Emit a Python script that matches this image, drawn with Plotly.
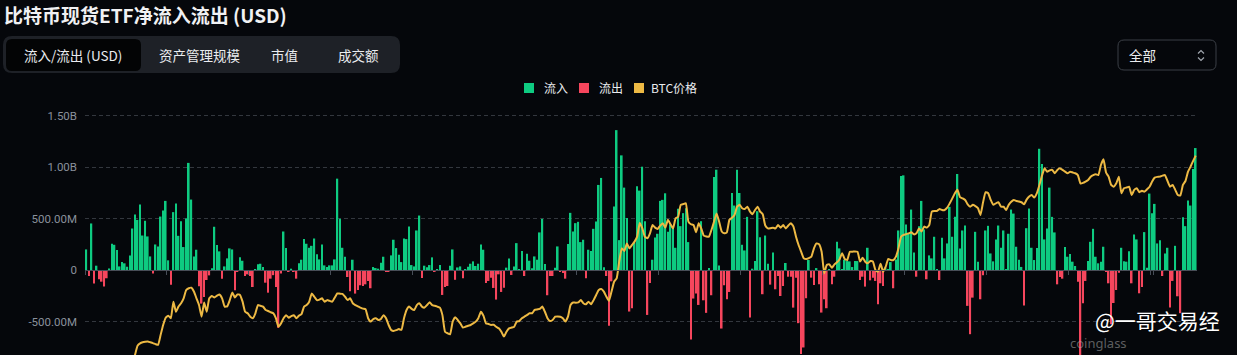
import plotly.graph_objects as go
import pandas as pd
from pandas.tseries.holiday import USFederalHolidayCalendar
from pandas.tseries.offsets import CustomBusinessDay

# ---------------- data ----------------
N_DAYS = 434
trade_days = pd.date_range(start="2024-01-11", periods=N_DAYS,
                           freq=CustomBusinessDay(calendar=USFederalHolidayCalendar()))
day_labels = [d.strftime("%Y-%m-%d") for d in trade_days]

# daily net flow, million USD
net_flow_musd = [
    200, -58, 452, -130, 42, -90, -113, -160, -80, 15,
    255, 245, 194, 35, 77, 65, 32, 142, 403, 539,
    487, 636, 335, 478, 326, 132, -35, 248, 229, 519,
    577, 671, 94, -142, 562, 646, 332, 474, 223, 500,
    1040, 684, 132, 197, -158, -326, -261, -97, -52, 16,
    420, 242, 181, -84, 35, 113, 210, 200, -197, -19,
    123, 90, -58, -42, -58, -165, 3, 55, 61, 29,
    -123, -220, -84, -50, -165, -560, -35, 374, 213, -16,
    13, -10, -84, 65, 100, 300, 255, 216, 235, 306,
    152, 103, 248, 45, 29, 45, 45, 103, 887, 497,
    216, 129, -68, -206, 100, -229, -194, -148, -155, -139,
    -106, -177, 29, 19, 13, 71, 129, -16, -19, 142,
    294, 213, 148, 77, 306, 300, 423, 48, 35, 384,
    529, -77, 42, 26, 48, 123, -19, 5, 48, -242,
    -165, -155, 42, 200, -95, 25, 35, -80, 10, 32,
    61, 84, 39, 61, 248, 197, -126, -106, -74, -174,
    -287, -42, -213, -171, 23, 113, -48, 35, 261, 10,
    184, -58, 158, 90, 16, 132, 100, 365, 497, 58,
    -245, -58, -58, 23, 229, -19, -29, -84, 252, 555,
    374, 455, 468, 271, 294, -80, 197, 184, 400, 471,
    826, 894, 26, -58, -542, -110, 616, 1358, 290, 1113,
    800, 506, -403, -371, 266, 813, 771, 1003, 474, -436,
    -126, 100, 316, 352, 671, 681, 745, 371, 442, 419,
    216, 594, 426, 552, 600, 271, -674, -277, -229, -339,
    474, -294, -416, 20, -245, 903, 974, 45, -568, -148,
    -284, -213, 748, 626, 974, 748, 245, 190, 516, -461,
    13, 87, 571, 319, -235, 335, 61, -142, 171, -187,
    -58, -252, -155, 68, -65, -65, -365, -74, -516, -816,
    -752, -274, 97, -74, -145, 19, -139, -413, -284, -371,
    10, -139, -65, 274, 210, 10, 100, 87, 84, 29,
    87, 87, -97, -65, -161, 216, -100, -74, -106, -332,
    -129, -155, 23, 10, 77, -177, 103, 384, 913, 919,
    442, 361, 587, 171, -65, 426, 671, 394, -90, 142,
    113, 323, 10, -97, 313, 113, 258, 613, 323, 516,
    932, 210, 384, 432, -348, -623, -268, 371, 81, -284,
    -52, 384, 429, 161, 84, 297, 432, 216, 384, 6,
    352, 587, 548, 226, 100, 30, -345, 406, 597, 216,
    97, 213, 1177, 1029, 297, 403, 800, 516, 365, -139,
    -68, -84, 223, 129, 155, 81, 39, -113, -830, -323,
    -106, 87, 274, 400, 129, 65, 81, 226, -16, -129,
    -526, -320, -194, -26, 216, 84, 81, 181, -129, 345,
    297, -226, -165, 368, 23, 742, 552, 642, 258, 290,
    -58, 161, 216, -365, -106, 235, -255, -419, 513, 426,
    674, 626, 981, 1184,
]

# BTC price, USD
btc_price = [
    46600, 42800, 43100, 42700, 41300, 41600, 39500, 39800, 40100, 39900,
    41800, 43300, 42900, 42600, 43100, 43200, 42600, 43100, 44300, 47000,
    50600, 51500, 51900, 52100, 52200, 51900, 51600, 51200, 50900, 54700,
    58600, 61400, 62200, 61200, 67600, 63700, 65700, 67000, 68900, 72100,
    72800, 73000, 71500, 68900, 66300, 61800, 67300, 63700, 68900, 69800,
    69200, 69900, 70400, 68900, 65700, 65800, 68200, 71100, 69200, 70400,
    70200, 67600, 63700, 63100, 61800, 61200, 63100, 66300, 66000, 65700,
    64400, 64000, 63500, 63100, 61200, 57900, 59200, 61200, 62400, 61400,
    62000, 62400, 61200, 62200, 62800, 65700, 66300, 67600, 70800, 69500,
    68200, 68400, 68900, 67600, 68200, 67900, 67600, 69200, 70800, 70700,
    70600, 69500, 68200, 68900, 67000, 66300, 65800, 65300, 64900, 64700,
    61200, 59900, 60900, 61200, 60500, 60900, 62400, 61200, 58600, 56700,
    56300, 56600, 57000, 56700, 61200, 64400, 65700, 64800, 64400, 66300,
    67000, 65700, 65300, 66300, 67400, 66300, 66000, 65700, 65300, 62400,
    56000, 55400, 55000, 59900, 61600, 60500, 59200, 57600, 57900, 58300,
    58600, 59200, 59900, 61200, 63700, 62200, 59200, 59000, 58600, 58700,
    57900, 57300, 56000, 54100, 56000, 57300, 57600, 57900, 59900, 60100,
    61200, 61800, 62400, 63100, 63100, 64400, 64600, 64800, 65700, 63700,
    61200, 60100, 60500, 61800, 61900, 61800, 61200, 59900, 61800, 66300,
    67300, 67200, 67300, 68200, 67000, 66600, 67600, 66600, 68200, 70200,
    72100, 72500, 71500, 69500, 67900, 71500, 75300, 76600, 83100, 88200,
    87200, 90100, 88200, 89500, 90800, 92700, 98000, 96000, 92700, 92100,
    94000, 97200, 96200, 95700, 97000, 97900, 96200, 99200, 97500, 95900,
    99800, 100400, 105000, 105300, 105600, 98500, 97500, 97200, 94400, 97900,
    95900, 93100, 92800, 92700, 95300, 98500, 101700, 98500, 94700, 94000,
    94400, 99200, 100000, 101100, 104300, 105000, 103700, 103400, 104300, 102500,
    101400, 103000, 104300, 102400, 101400, 97000, 95900, 96000, 96200, 95900,
    97200, 96200, 97200, 95900, 97000, 97900, 96600, 92700, 89500, 86900,
    84400, 84100, 84400, 85000, 88200, 90100, 89800, 86900, 78600, 81800,
    82000, 80700, 82000, 82800, 84000, 86300, 84100, 83700, 86900, 86900,
    87000, 86900, 83100, 84600, 83000, 82400, 83300, 83100, 79800, 79200,
    82200, 79200, 81100, 84100, 83700, 83700, 85000, 88200, 92700, 93400,
    93700, 94000, 94400, 93600, 94000, 95900, 94700, 96600, 96200, 97200,
    102400, 102600, 102600, 103400, 103000, 103000, 103900, 105600, 107500, 109500,
    110800, 108000, 107500, 106900, 105200, 104300, 105000, 104500, 103700, 101100,
    106000, 109900, 109500, 106900, 105000, 105600, 106000, 104300, 104300, 103000,
    105000, 106200, 106900, 106500, 106300, 106000, 105200, 107000, 108200, 108800,
    107800, 109500, 112700, 116300, 119100, 117800, 118300, 118500, 117200, 118500,
    119100, 118500, 117800, 117200, 117800, 117500, 117200, 116500, 113300, 113500,
    114000, 114600, 115900, 116500, 116800, 116500, 120400, 122600, 117500, 115900,
    112700, 112000, 113300, 115900, 109500, 111400, 111700, 112000, 108800, 110800,
    111400, 109900, 110400, 110100, 111000, 112000, 114000, 115500, 115800, 115900,
    116300, 116500, 114200, 112000, 112700, 110800, 108800, 108600, 112700, 114200,
    117800, 119800, 122000, 124000,
]

y_tick_values = [-500e6, 0, 500e6, 1000e6, 1500e6]
y_tick_text = ["-500.00M", "0", "500.00M", "1.00B", "1.50B"]
tab_names = ["流入/流出 (USD)", "资产管理规模", "市值", "成交额"]
legend_names = ["流入", "流出", "BTC价格"]

# ---------------- style ----------------
BG = "#05070b"
GREEN = "#0ecb81"
RED = "#f6465d"
YELLOW = "#edb944"
W, H = 1237, 355
L, R, T, B = 85, 40, 100, 0
PW, PH = W - L - R, H - T - B
CJK = "Noto Sans CJK SC"


def PX(x):
    return (x - L) / PW


def PY(y):
    return (H - B - y) / PH


def rrect(x0, y0, x1, y1, r):
    return (f"M{PX(x0 + r)},{PY(y0)} L{PX(x1 - r)},{PY(y0)} Q{PX(x1)},{PY(y0)} {PX(x1)},{PY(y0 + r)} "
            f"L{PX(x1)},{PY(y1 - r)} Q{PX(x1)},{PY(y1)} {PX(x1 - r)},{PY(y1)} "
            f"L{PX(x0 + r)},{PY(y1)} Q{PX(x0)},{PY(y1)} {PX(x0)},{PY(y1 - r)} "
            f"L{PX(x0)},{PY(y0 + r)} Q{PX(x0)},{PY(y0)} {PX(x0 + r)},{PY(y0)} Z")


def polyline(points):
    return "M" + " L".join(f"{PX(x)},{PY(y)}" for x, y in points)


inflow = [v * 1e6 if v > 0 else None for v in net_flow_musd]
outflow = [v * 1e6 if v < 0 else None for v in net_flow_musd]

fig = go.Figure()
fig.add_bar(x=day_labels, y=inflow, name=legend_names[0], marker_color=GREEN,
            marker_line_width=0, showlegend=False)
fig.add_bar(x=day_labels, y=outflow, name=legend_names[1], marker_color=RED,
            marker_line_width=0, showlegend=False)
fig.add_scatter(x=day_labels, y=btc_price, yaxis="y2", mode="lines", name=legend_names[2],
                line=dict(color=YELLOW, width=2, shape="spline", smoothing=0.4),
                showlegend=False)

y_lo, y_hi = -825e6, 1650.5e6
zero_pos = (0 - y_lo) / (y_hi - y_lo)

fig.update_layout(
    width=W, height=H, autosize=False,
    margin=dict(l=L, r=R, t=T, b=B, pad=0),
    paper_bgcolor=BG, plot_bgcolor=BG,
    barmode="relative", bargap=0.35,
    showlegend=False,
    xaxis=dict(type="category", range=[-0.5, N_DAYS - 0.5], showgrid=False,
               showline=True, linecolor="#474d57", linewidth=1,
               ticks="outside", ticklen=4, tickcolor="#474d57",
               tickson="boundaries", tickmode="array", tickvals=day_labels[::32],
               showticklabels=False, anchor="free", position=zero_pos,
               automargin=False, zeroline=False),
    yaxis=dict(range=[y_lo, y_hi], tickmode="array", tickvals=y_tick_values,
               ticktext=y_tick_text, showgrid=True, gridcolor="#33373e",
               griddash="4px,3px", gridwidth=1, zeroline=False, showline=False,
               ticks="", ticklabelstandoff=7, automargin=False,
               tickfont=dict(family="Roboto", size=11.5, color="#8a919c")),
    yaxis2=dict(overlaying="y", range=[47000, 145500], visible=False),
)

shapes = []
annos = []

# title
annos.append(dict(text="<b>比特币现货ETF净流入流出 (USD)</b>", x=PX(2), y=PY(14),
                  xanchor="left", yanchor="middle",
                  font=dict(family=CJK, size=19, color="#f0f1f3")))

# tabs
shapes.append(dict(type="path", path=rrect(3, 36, 400, 73, 9), xref="paper", yref="paper",
                   fillcolor="#1e2127", line=dict(width=0), layer="below"))
shapes.append(dict(type="path", path=rrect(6, 39, 141, 71, 6), xref="paper", yref="paper",
                   fillcolor="#030405", line=dict(width=0), layer="below"))
tab_centers = [73, 200, 284, 358]
for name, cx in zip(tab_names, tab_centers):
    annos.append(dict(text=name, x=PX(cx), y=PY(55), xanchor="center", yanchor="middle",
                      font=dict(family=CJK, size=13.5, color="#eaecef")))

# dropdown
shapes.append(dict(type="path", path=rrect(1118, 40, 1216, 70, 6), xref="paper", yref="paper",
                   fillcolor="rgba(0,0,0,0)", line=dict(width=1, color="#3b3f46")))
annos.append(dict(text="全部", x=PX(1127), y=PY(55), xanchor="left", yanchor="middle",
                  font=dict(family=CJK, size=13.5, color="#eaecef")))
shapes.append(dict(type="path", path=polyline([(1198, 53.5), (1201, 50.5), (1204, 53.5)]),
                   xref="paper", yref="paper", line=dict(width=1.2, color="#a0a6ae")))
shapes.append(dict(type="path", path=polyline([(1198, 57.5), (1201, 60.5), (1204, 57.5)]),
                   xref="paper", yref="paper", line=dict(width=1.2, color="#a0a6ae")))

# legend
legend_items = [(524, 542, GREEN), (579, 597, RED), (634, 649, YELLOW)]
for name, (sx, tx, col) in zip(legend_names, legend_items):
    shapes.append(dict(type="rect", xref="paper", yref="paper",
                       x0=PX(sx), x1=PX(sx + 10), y0=PY(93), y1=PY(83),
                       fillcolor=col, line=dict(width=0)))
    annos.append(dict(text=name, x=PX(tx), y=PY(88), xanchor="left", yanchor="middle",
                      font=dict(family=CJK, size=12, color="#eaecef")))

# watermark
annos.append(dict(text="coinglass", x=PX(1098), y=PY(343), xanchor="center", yanchor="middle",
                  font=dict(family="Noto Sans", size=13, color="rgba(170,170,170,0.55)")))
annos.append(dict(text="@一哥交易经", x=PX(1157), y=PY(320), xanchor="center", yanchor="middle",
                  font=dict(family=CJK, size=21, color="#ffffff")))

for a in annos:
    a.update(xref="paper", yref="paper", showarrow=False)

fig.update_layout(shapes=shapes, annotations=annos)

fig.write_html("out.html", config={"displayModeBar": False})
